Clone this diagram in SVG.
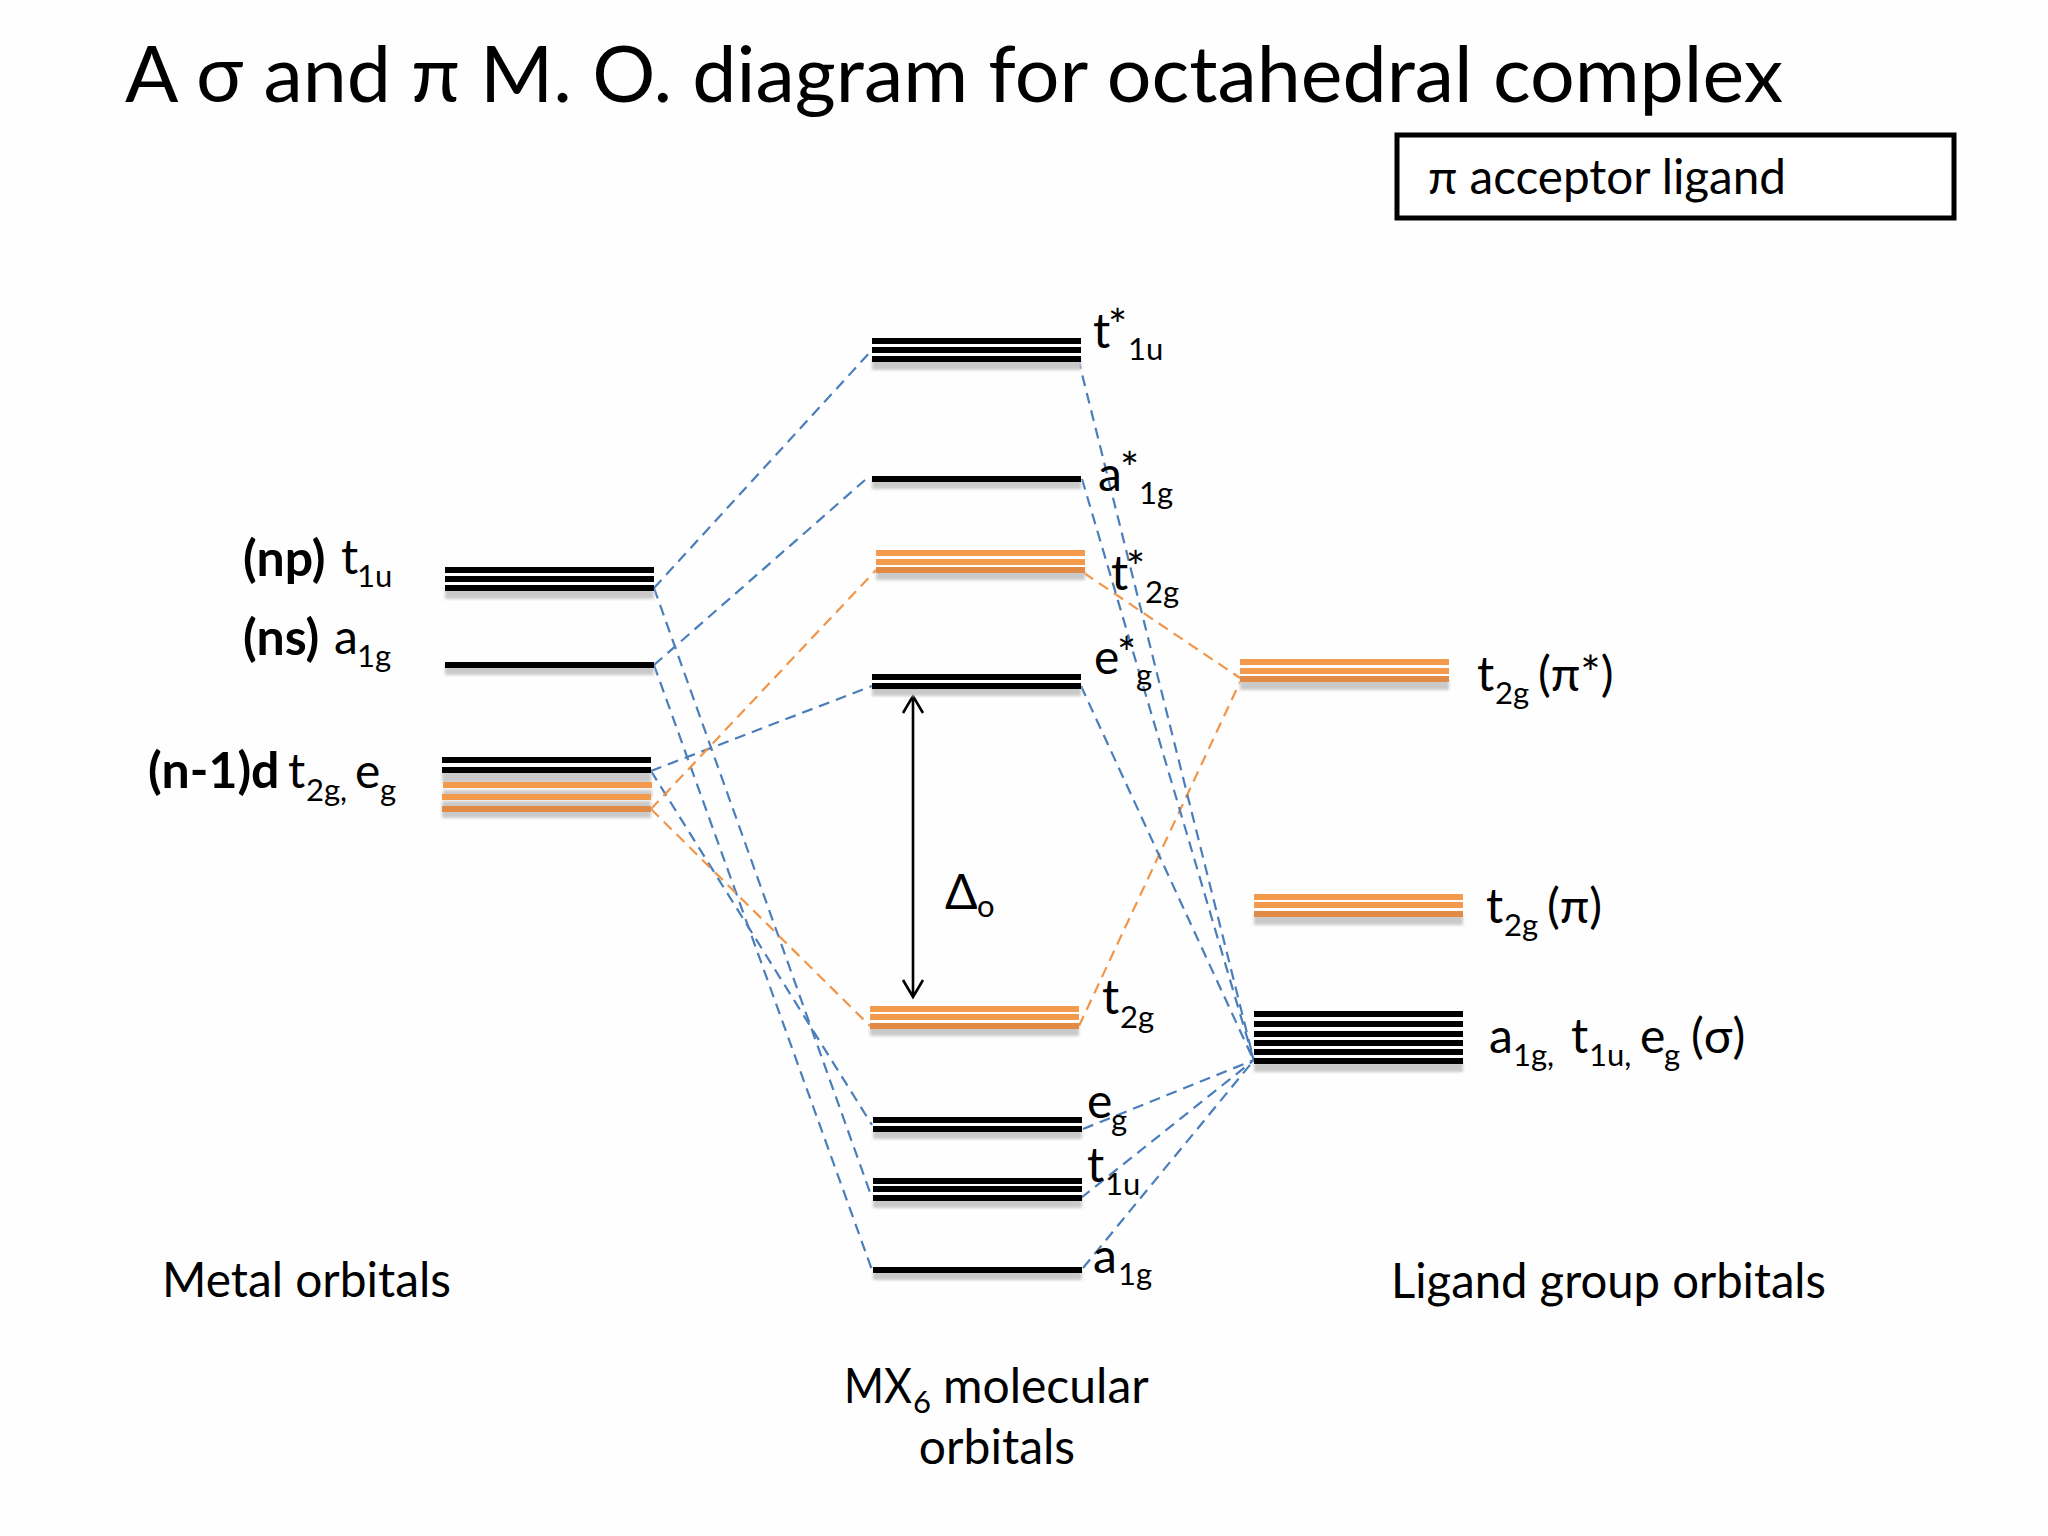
<svg xmlns="http://www.w3.org/2000/svg" width="2048" height="1536" viewBox="0 0 2048 1536">
<defs>
<filter id="soft" x="-5%" y="-100%" width="110%" height="300%"><feGaussianBlur stdDeviation="1.6"/></filter>
</defs>
<style>
text{font-family:"Lato","Open Sans","DejaVu Sans",sans-serif;fill:#000}
.l{font-size:48px}
.s{font-size:31px}
.st{font-size:45px}
.b{font-weight:700;font-size:50px}
.k{fill:#000}
.o{fill:#f39a4c}
.o2{fill:#e08a45}
.sh{fill:#c9c9c9;filter:url(#soft)}
.cb,.co{fill:none;stroke-width:2.2;stroke-dasharray:11 7}
.cb{stroke:#4a7ebb}
.co{stroke:#f0954a}
.ar{fill:none;stroke:#000;stroke-width:2.6}
</style>
<rect width="2048" height="1536" fill="#fefefe"/>
<text id="title" x="125" y="102" font-size="77" textLength="1658" lengthAdjust="spacingAndGlyphs">A σ and π M. O. diagram for octahedral complex</text>
<g id="legend"><rect x="1397" y="135" width="557" height="83" fill="#fff" stroke="#000" stroke-width="5"/>
<text class="l" x="1428" y="194" textLength="358" lengthAdjust="spacingAndGlyphs">π acceptor ligand</text></g>

<g id="connectors">
<path class="cb" d="M654 588L872 350"/>
<path class="cb" d="M654 665L865 480"/>
<path class="cb" d="M651 771L872 686"/>
<path class="cb" d="M654 588L872 1198"/>
<path class="cb" d="M654 665L872 1270"/>
<path class="cb" d="M651 771L872 1125"/>
<path class="co" d="M651 809L876 570"/>
<path class="co" d="M651 809L870 1026"/>
<path class="co" d="M1084 573L1240 678"/>
<path class="co" d="M1079 1026L1240 682"/>
<path class="cb" d="M1078 358L1254 1061"/>
<path class="cb" d="M1082 479L1254 1061"/>
<path class="cb" d="M1081 686L1254 1061"/>
<path class="cb" d="M1083 1129L1254 1060"/>
<path class="cb" d="M1081 1198L1254 1060"/>
<path class="cb" d="M1083 1268L1254 1060"/>
<path class="ar" d="M913 697V996M903 713L913 696L923 713M903 980L913 997L923 980"/>
</g>

<g id="metal-np"><rect class="sh" x="445" y="588" width="209" height="11"/><rect class="k" x="445" y="567" width="209" height="6"/><rect class="k" x="445" y="576" width="209" height="6"/><rect class="k" x="445" y="585" width="209" height="6"/>
<text class="l"><tspan class="b" x="243" y="576">(np)</tspan><tspan x="341" y="574">t</tspan><tspan class="s" x="357" y="587">1u</tspan></text></g>
<g id="metal-ns"><rect class="sh" x="445" y="665" width="209" height="10"/><rect class="k" x="445" y="662" width="209" height="6"/>
<text class="l"><tspan class="b" x="243" y="655">(ns)</tspan><tspan x="334" y="654">a</tspan><tspan class="s" x="357" y="667">1g</tspan></text></g>
<g id="metal-d"><rect class="sh" x="442" y="771" width="209" height="12"/><rect class="sh" x="443" y="790" width="209" height="8"/><rect class="sh" x="442" y="801" width="209" height="17"/>
<rect class="k" x="442" y="757" width="209" height="6"/><rect class="k" x="442" y="767" width="209" height="6"/><rect class="o" x="443" y="782" width="209" height="6"/><rect class="o" x="442" y="794" width="209" height="6"/><rect class="o2" x="442" y="806" width="209" height="6"/>
<text class="l"><tspan class="b" x="148" y="788">(n-1)d</tspan><tspan x="288" y="788">t</tspan><tspan class="s" x="306" y="801">2g,</tspan><tspan x="355" y="788">e</tspan><tspan class="s" x="380" y="801">g</tspan></text></g>

<g id="mo-t1u-star"><rect class="sh" x="872" y="359" width="209" height="11"/><rect class="k" x="872" y="338" width="209" height="6"/><rect class="k" x="872" y="347" width="209" height="6"/><rect class="k" x="872" y="356" width="209" height="6"/>
<text class="l"><tspan x="1093" y="348">t</tspan><tspan class="st" x="1108" y="341">*</tspan><tspan class="s" x="1128" y="360">1u</tspan></text></g>
<g id="mo-a1g-star"><rect class="sh" x="872" y="479" width="209" height="10"/><rect class="k" x="872" y="476" width="209" height="6"/>
<text class="l"><tspan x="1098" y="491">a</tspan><tspan class="st" x="1120" y="484">*</tspan><tspan class="s" x="1139" y="504">1g</tspan></text></g>
<g id="mo-t2g-star"><rect class="sh" x="876" y="570" width="209" height="10"/><rect class="o" x="876" y="550" width="209" height="6"/><rect class="o" x="876" y="559" width="209" height="6"/><rect class="o2" x="876" y="567" width="209" height="6"/>
<text class="l"><tspan x="1111" y="590">t</tspan><tspan class="st" x="1126" y="583">*</tspan><tspan class="s" x="1145" y="603">2g</tspan></text></g>
<g id="mo-eg-star"><rect class="sh" x="872" y="686" width="209" height="10"/><rect class="k" x="872" y="674" width="209" height="6"/><rect class="k" x="872" y="683" width="209" height="6"/>
<text class="l"><tspan x="1094" y="674">e</tspan><tspan class="st" x="1117" y="669">*</tspan><tspan class="s" x="1136" y="686">g</tspan></text></g>
<g id="mo-t2g"><rect class="sh" x="870" y="1026" width="209" height="10"/><rect class="o" x="870" y="1006" width="209" height="6"/><rect class="o" x="870" y="1014" width="209" height="6"/><rect class="o2" x="870" y="1023" width="209" height="6"/>
<text class="l"><tspan x="1102" y="1014">t</tspan><tspan class="s" x="1120" y="1028">2g</tspan></text></g>
<g id="mo-eg"><rect class="sh" x="873" y="1129" width="209" height="10"/><rect class="k" x="873" y="1117" width="209" height="6"/><rect class="k" x="873" y="1126" width="209" height="6"/>
<text class="l"><tspan x="1087" y="1118">e</tspan><tspan class="s" x="1111" y="1131">g</tspan></text></g>
<g id="mo-t1u"><rect class="sh" x="873" y="1198" width="209" height="10"/><rect class="k" x="873" y="1178" width="209" height="6"/><rect class="k" x="873" y="1186" width="209" height="6"/><rect class="k" x="873" y="1195" width="209" height="6"/>
<text class="l"><tspan x="1087" y="1182">t</tspan><tspan class="s" x="1105" y="1195">1u</tspan></text></g>
<g id="mo-a1g"><rect class="sh" x="873" y="1270" width="209" height="10"/><rect class="k" x="873" y="1267" width="209" height="6"/>
<text class="l"><tspan x="1093" y="1273">a</tspan><tspan class="s" x="1118" y="1285">1g</tspan></text></g>

<g id="lg-pi-star"><rect class="sh" x="1240" y="680" width="209" height="10"/><rect class="o" x="1240" y="659" width="209" height="6"/><rect class="o" x="1240" y="668" width="209" height="6"/><rect class="o2" x="1240" y="676" width="209" height="6"/>
<text class="l"><tspan x="1477" y="691">t</tspan><tspan class="s" x="1495" y="704">2g</tspan><tspan x="1538" y="691">(π*)</tspan></text></g>
<g id="lg-pi"><rect class="sh" x="1254" y="915" width="209" height="10"/><rect class="o" x="1254" y="894" width="209" height="6"/><rect class="o" x="1254" y="902" width="209" height="6"/><rect class="o2" x="1254" y="911" width="209" height="6"/>
<text class="l"><tspan x="1486" y="923">t</tspan><tspan class="s" x="1504" y="936">2g</tspan><tspan x="1547" y="923">(π)</tspan></text></g>
<g id="lg-sigma"><rect class="sh" x="1254" y="1062" width="209" height="10"/><rect class="k" x="1254" y="1011" width="209" height="6"/><rect class="k" x="1254" y="1021" width="209" height="6"/><rect class="k" x="1254" y="1031" width="209" height="6"/><rect class="k" x="1254" y="1040" width="209" height="6"/><rect class="k" x="1254" y="1049" width="209" height="6"/><rect class="k" x="1254" y="1058" width="209" height="6"/>
<text class="l"><tspan x="1489" y="1053">a</tspan><tspan class="s" x="1513" y="1066">1g,</tspan><tspan x="1571" y="1053">t</tspan><tspan class="s" x="1589" y="1066">1u,</tspan><tspan x="1640" y="1053">e</tspan><tspan class="s" x="1664" y="1066">g</tspan><tspan x="1691" y="1053">(σ)</tspan></text></g>

<g id="delta"><text class="l"><tspan x="945" y="909">Δ</tspan><tspan class="s" x="977" y="917">o</tspan></text></g>
<text class="l" x="162" y="1297" textLength="289" lengthAdjust="spacingAndGlyphs">Metal orbitals</text>
<text class="l" x="1391" y="1298" textLength="435" lengthAdjust="spacingAndGlyphs">Ligand group orbitals</text>
<text class="l" x="844" y="1403" textLength="68" lengthAdjust="spacingAndGlyphs">MX</text>
<text class="s" x="913" y="1413">6</text>
<text class="l" x="943" y="1403">molecular</text>
<text class="l" x="997" y="1464" text-anchor="middle">orbitals</text>
</svg>
